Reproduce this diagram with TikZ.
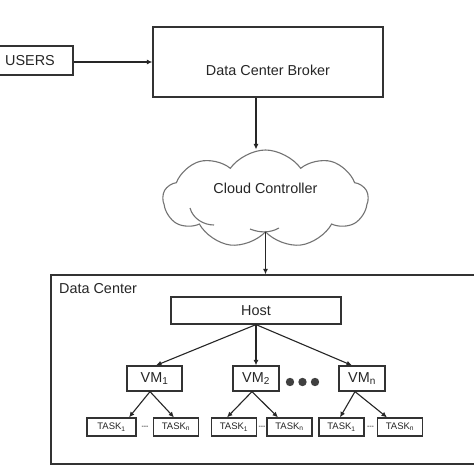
\documentclass[tikz,border=0pt]{standalone}
\usepackage{fontspec}
\setmainfont{Liberation Sans}
\usetikzlibrary{shapes.symbols,arrows.meta}
\tikzset{
	box/.style={draw=black!80, line width=1.2pt, inner sep=0pt, text=black!85, font=\fontsize{14.4}{17}\selectfont},
	taskbox/.style={box, minimum width=45, minimum height=18, font=\fontsize{9.5}{10}\selectfont},
	vmbox/.style={box, minimum width=46, minimum height=25},
	arr/.style={-{Latex[length=5.5pt,width=5pt]}, line width=1.1pt, draw=black!85},
}
\begin{document}
\begin{tikzpicture}[x=1pt, y=-1pt]
	\clip (0,0) rectangle (474,474);
	\fill[white] (0,0) rectangle (474,474);
	
	\node[box, minimum width=86, minimum height=29] (users) at (30,60.5) {USERS};
	\node[box, minimum width=230, minimum height=70, label={[yshift=-8pt, text=black!85, font=\fontsize{14.4}{17}\selectfont]center:Data Center Broker}] (broker) at (268,62) {};
	\node[cloud, draw=black!55, line width=1.1pt, cloud puffs=9, cloud puff arc=110, aspect=2.1, minimum width=205, minimum height=98, inner sep=0pt, label={[yshift=11pt, text=black!85, font=\fontsize{14.4}{17}\selectfont]center:Cloud Controller}] (ctrl) at (265.5,199) {};
	\draw[black!55, line width=1.1pt] (190,208) .. controls (193,219) and (204,225) .. (214,225);
	\draw[black!55, line width=1.1pt] (250,229) .. controls (260,233) and (270,233) .. (279,228);
	
	\node[box, minimum width=439, minimum height=189] (dc) at (270.5,369.5) {};
	\node[anchor=west, inner sep=0pt, text=black!85, font=\fontsize{14.4}{17}\selectfont] (dclabel) at (59,289) {Data Center};
	
	\node[box, minimum width=170, minimum height=27] (host) at (256,310.5) {Host};
	\node[vmbox, minimum width=55] (vm1) at (154.5,378.5) {VM\textsubscript{1}};
	\node[vmbox] (vm2) at (256,378.5) {VM\textsubscript{2}};
	\node[vmbox] (vmn) at (362,378.5) {VM\textsubscript{n}};
	\fill[black!75] (290,382) circle (4.2) (302.5,382) circle (4.2) (315,382) circle (4.2);
	
	\node[taskbox, minimum width=49] (t1a) at (111.5,427) {TASK\textsubscript{1}};
	\node[taskbox] (t1b) at (176,427) {TASK\textsubscript{n}};
	\node[taskbox] (t2a) at (234,427) {TASK\textsubscript{1}};
	\node[taskbox] (t2b) at (289.5,427) {TASK\textsubscript{n}};
	\node[taskbox] (t3a) at (341.5,427) {TASK\textsubscript{1}};
	\node[taskbox] (t3b) at (400,427) {TASK\textsubscript{n}};
	\node[font=\fontsize{7}{8}\selectfont, inner sep=0pt] (gap1) at (145,427) {-{}-{}-};
	\node[font=\fontsize{7}{8}\selectfont, inner sep=0pt] (gap2) at (262,427) {-{}-{}-};
	\node[font=\fontsize{7}{8}\selectfont, inner sep=0pt] (gap3) at (370.5,427) {-{}-{}-};
	
	\draw[arr] ([yshift=-1.5pt]users.east) -- ([yshift=-1.5pt]users.east -| broker.west);
	\draw[arr] ([xshift=-12pt]broker.south) -- ([xshift=-12pt]broker.south |- ctrl.north);
	\draw[arr] (ctrl.south) -- (ctrl.south |- dc.north);
	
	\draw[arr] (host.south) -- ([xshift=1.5pt]vm1.north);
	\draw[arr] (host.south) -- (vm2.north);
	\draw[arr] (host.south) -- ([xshift=-10pt]vmn.north);
	
	\draw[arr] ([xshift=-4.5pt]vm1.south) -- ([xshift=17.5pt]t1a.north);
	\draw[arr] ([xshift=-4.5pt]vm1.south) -- ([xshift=-2pt]t1b.north);
	\draw[arr] ([xshift=-4pt]vm2.south) -- ([xshift=-7pt]t2a.north);
	\draw[arr] ([xshift=-4pt]vm2.south) -- ([xshift=-11.5pt]t2b.north);
	\draw[arr] ([xshift=-7pt]vmn.south) -- ([xshift=-1.5pt]t3a.north);
	\draw[arr] ([xshift=-7pt]vmn.south) -- ([xshift=-13pt]t3b.north);
\end{tikzpicture}
\end{document}
